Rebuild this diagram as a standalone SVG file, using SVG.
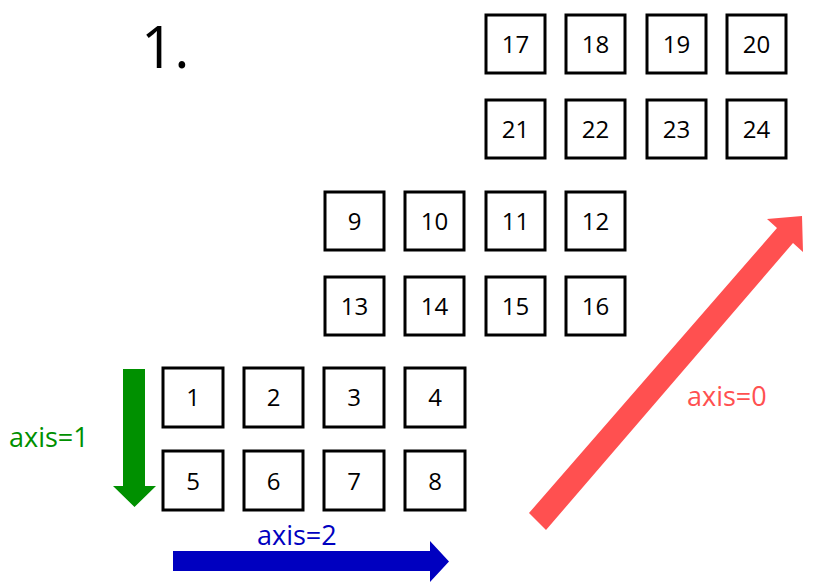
<svg xmlns="http://www.w3.org/2000/svg" width="815" height="586" viewBox="0 0 815 586">
<style>
.b rect{fill:#fff;stroke:#000;stroke-width:3}
.b text{font-family:"Open Sans","Liberation Sans",sans-serif;font-size:24px;text-anchor:middle;fill:#000}
.l{font-family:"Open Sans","Liberation Sans",sans-serif;font-size:27px}
</style>
<rect width="815" height="586" fill="#fff"/>
<text x="141" y="68" font-family="Open Sans, Liberation Sans, sans-serif" font-size="58" fill="#000">1.</text>
<g class="b">
<g id="n17"><rect x="486" y="15" width="59" height="58"/><text x="515.5" y="53">17</text></g>
<g id="n18"><rect x="566" y="15" width="59" height="58"/><text x="595.5" y="53">18</text></g>
<g id="n19"><rect x="647" y="15" width="59" height="58"/><text x="676.5" y="53">19</text></g>
<g id="n20"><rect x="727" y="15" width="59" height="58"/><text x="756.5" y="53">20</text></g>
<g id="n21"><rect x="486" y="100" width="59" height="58"/><text x="515.5" y="138">21</text></g>
<g id="n22"><rect x="566" y="100" width="59" height="58"/><text x="595.5" y="138">22</text></g>
<g id="n23"><rect x="647" y="100" width="59" height="58"/><text x="676.5" y="138">23</text></g>
<g id="n24"><rect x="727" y="100" width="59" height="58"/><text x="756.5" y="138">24</text></g>
<g id="n9"><rect x="325" y="192" width="59" height="58"/><text x="354.5" y="230">9</text></g>
<g id="n10"><rect x="405" y="192" width="59" height="58"/><text x="434.5" y="230">10</text></g>
<g id="n11"><rect x="486" y="192" width="59" height="58"/><text x="515.5" y="230">11</text></g>
<g id="n12"><rect x="566" y="192" width="59" height="58"/><text x="595.5" y="230">12</text></g>
<g id="n13"><rect x="325" y="277" width="59" height="58"/><text x="354.5" y="315">13</text></g>
<g id="n14"><rect x="405" y="277" width="59" height="58"/><text x="434.5" y="315">14</text></g>
<g id="n15"><rect x="486" y="277" width="59" height="58"/><text x="515.5" y="315">15</text></g>
<g id="n16"><rect x="566" y="277" width="59" height="58"/><text x="595.5" y="315">16</text></g>
<g id="n1"><rect x="163" y="368" width="60" height="59"/><text x="193" y="406">1</text></g>
<g id="n2"><rect x="244" y="368" width="59" height="59"/><text x="273.5" y="406">2</text></g>
<g id="n3"><rect x="324" y="368" width="60" height="59"/><text x="354" y="406">3</text></g>
<g id="n4"><rect x="405" y="368" width="60" height="59"/><text x="435" y="406">4</text></g>
<g id="n5"><rect x="163" y="451" width="60" height="59"/><text x="193" y="490">5</text></g>
<g id="n6"><rect x="244" y="451" width="59" height="59"/><text x="273.5" y="490">6</text></g>
<g id="n7"><rect x="324" y="451" width="60" height="59"/><text x="354" y="490">7</text></g>
<g id="n8"><rect x="405" y="451" width="60" height="59"/><text x="435" y="490">8</text></g>
</g>
<g id="connectors">
<polygon fill="#009000" points="123,369 145,369 145,486 156,486 134.5,507 113,486 123,486"/>
<polygon fill="#0000c0" points="173,551 430,551 430,541 449,561.5 430,582 430,571 173,571"/>
<polygon fill="#ff5050" points="529,513 777,228 767,219 802,216 803,252 793,243 546,530"/>
</g>
<text class="l" x="9" y="447" fill="#009000">axis=1</text>
<text class="l" x="257" y="545" fill="#0000c0">axis=2</text>
<text class="l" x="687" y="406" fill="#ff5050">axis=0</text>
</svg>
